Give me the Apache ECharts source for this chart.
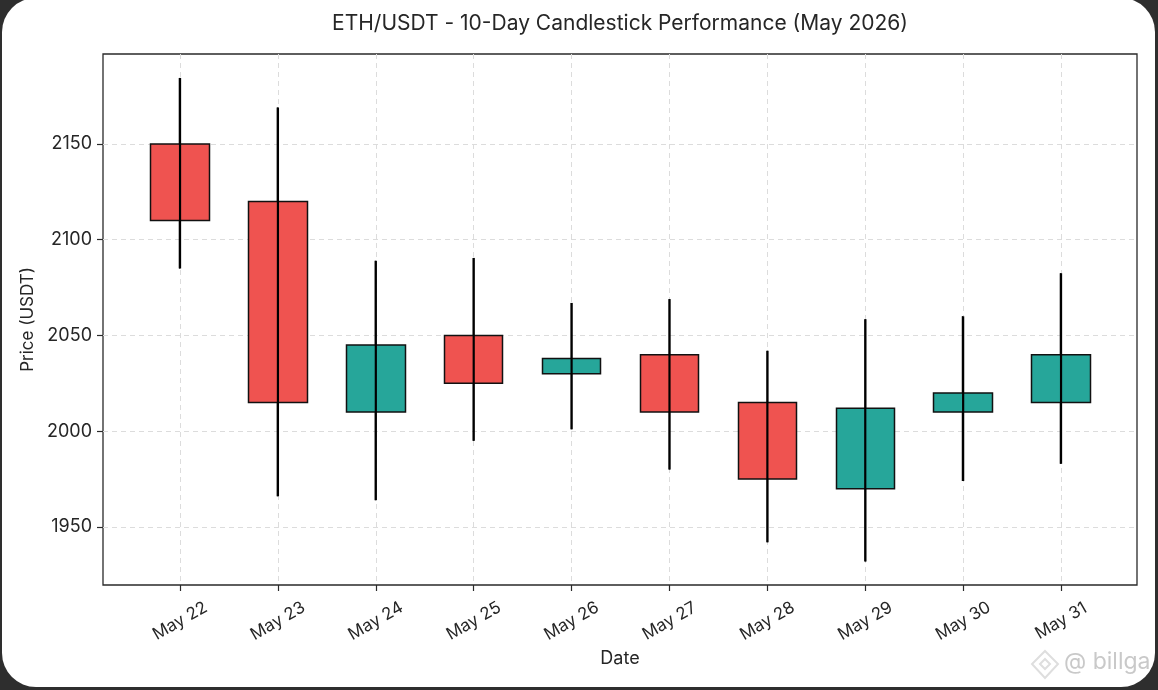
<!DOCTYPE html>
<html>
<head>
<meta charset="utf-8">
<style>
html,body{margin:0;padding:0;width:1158px;height:690px;background:#2e2e2e;overflow:hidden}
#card{position:absolute;left:2px;top:-2px;width:1153px;height:689px;background:#fff;border-radius:34px}
#chart{position:absolute;left:0;top:0;width:1158px;height:690px}
</style>
<script src="https://cdn.jsdelivr.net/npm/echarts@6/dist/echarts.min.js"></script>
</head>
<body>
<div id="card"></div>
<div id="chart"></div>
<script>
const categories = ['May 22','May 23','May 24','May 25','May 26','May 27','May 28','May 29','May 30','May 31'];
const opens  = [2150,2120,2010,2050,2030,2040,2015,1970,2010,2015];
const closes = [2110,2015,2045,2025,2038,2010,1975,2012,2020,2040];
const lows   = [2085,1966,1964,1995,2001,1980,1942,1932,1974,1983];
const highs  = [2184.5,2169,2089,2090.5,2067,2069,2042,2058.5,2060,2082.5];
const yTicks = [1950,2000,2050,2100,2150];
const xTicks = categories.map((_, i) => i);

const FONT = 'Inter';
const TEXT = '#262626';
const chart = echarts.init(document.getElementById('chart'), null, {renderer:'canvas'});
const gridLine = {show:true, lineStyle:{color:'#dcdcdc', type:[5,4], width:1}};
chart.setOption({
  animation:false,
  backgroundColor:'transparent',
  title:{text:'ETH/USDT - 10-Day Candlestick Performance (May 2026)', left:615, top:8, textAlign:'center',
    textStyle:{fontFamily:FONT, fontWeight:400, fontSize:21, color:TEXT}},
  grid:{left:103, top:54, width:1034, height:531, show:true, borderColor:'#2a2a2a', borderWidth:1.3, backgroundColor:'#fff'},
  xAxis:{type:'value', min:-0.787, max:9.776, name:'Date', nameLocation:'middle', nameGap:63,
    nameTextStyle:{fontFamily:FONT, fontSize:18, color:TEXT},
    axisLine:{show:false, onZero:false},
    axisTick:{show:true, length:6, customValues:xTicks, lineStyle:{color:'#2a2a2a', width:1.2}},
    axisLabel:{customValues:xTicks, rotate:30, margin:36, align:'center', verticalAlign:'middle',
      fontFamily:FONT, fontSize:17, color:TEXT, formatter:v => categories[v]},
    splitLine:gridLine},
  yAxis:{type:'value', min:1919.7, max:2197, name:'Price (USDT)', nameLocation:'middle', nameGap:66,
    nameTextStyle:{fontFamily:FONT, fontSize:17, color:TEXT},
    axisLine:{show:false, onZero:false},
    axisTick:{show:true, length:6, customValues:yTicks, lineStyle:{color:'#2a2a2a', width:1.2}},
    axisLabel:{customValues:yTicks, margin:11, fontFamily:FONT, fontSize:18, color:TEXT, formatter:v => String(v)},
    splitLine:gridLine},
  series:[
    {type:'candlestick', barWidth:59, z:3,
      data:categories.map((_, i) => [i, opens[i], closes[i], lows[i], highs[i]]),
      itemStyle:{color:'#26A69A', color0:'#EF5350', borderColor:'#111', borderColor0:'#111', borderWidth:1.5}},
    {type:'custom', z:4, encode:{x:0, y:[1,2]},
      data:categories.map((_, i) => [i, lows[i], highs[i]]),
      renderItem:(params, api) => {
        const a = api.coord([api.value(0), api.value(1)]);
        const b = api.coord([api.value(0), api.value(2)]);
        return {type:'line', shape:{x1:a[0], y1:a[1], x2:b[0], y2:b[1]}, style:{stroke:'#000', lineWidth:2.2}};
      }}
  ],
  graphic:[
    {type:'text', left:1064, top:651, silent:true, style:{text:'@ billga', fontFamily:FONT, fontSize:23, fill:'#c9c9c9'}},
    {type:'polygon', silent:true, shape:{points:[[1045,651],[1058,664],[1045,678],[1032,664]]}, style:{fill:'none', stroke:'#dedede', lineWidth:2}},
    {type:'polygon', silent:true, shape:{points:[[1045,659],[1050,664],[1045,669],[1040,664]]}, style:{fill:'none', stroke:'#dedede', lineWidth:2}}
  ]
});
</script>
</body>
</html>
